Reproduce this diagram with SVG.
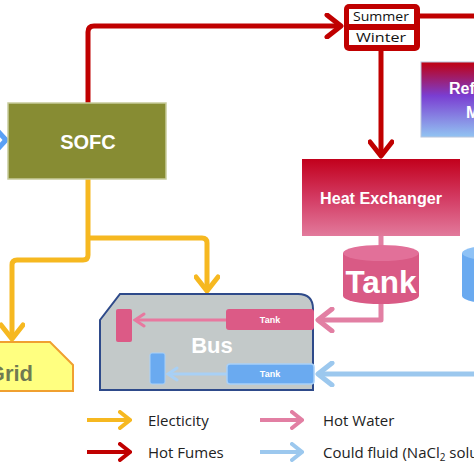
<svg xmlns="http://www.w3.org/2000/svg" width="474" height="474" viewBox="0 0 474 474">
<style>
.ln{fill:none;stroke-width:5;stroke-linejoin:round}
.th{fill:none;stroke-width:3}
.lg{fill:none;stroke-width:4}
.lbl{font-family:"Liberation Sans",Arial,sans-serif;font-weight:bold;fill:#fff;text-anchor:middle}
.leg{font-family:"Open Sans","Liberation Sans",sans-serif;font-size:15px;fill:#222}
.sw{font-family:"Open Sans","Liberation Sans",sans-serif;font-size:13px;fill:#111;text-anchor:middle}
</style>
<defs>
<linearGradient id="gHE" x1="0" y1="0" x2="0" y2="1"><stop offset="0" stop-color="#c2001c"/><stop offset="0.5" stop-color="#d33a62"/><stop offset="1" stop-color="#e27a9c"/></linearGradient>
<linearGradient id="gRF" x1="0" y1="0" x2="0" y2="1"><stop offset="0" stop-color="#c00010"/><stop offset="0.45" stop-color="#7a3ed2"/><stop offset="1" stop-color="#92c4f2"/></linearGradient>
<marker id="mY" markerUnits="userSpaceOnUse" viewBox="0 0 20 26" refX="17" refY="13" markerWidth="20" markerHeight="26" orient="auto"><path d="M3,2 L17,13 L3,24" fill="none" stroke="#f6b820" stroke-width="5" stroke-linecap="round" stroke-linejoin="round"/></marker>
<marker id="mR" markerUnits="userSpaceOnUse" viewBox="0 0 20 26" refX="17" refY="13" markerWidth="20" markerHeight="26" orient="auto"><path d="M3,2 L17,13 L3,24" fill="none" stroke="#c00000" stroke-width="5" stroke-linecap="round" stroke-linejoin="round"/></marker>
<marker id="mP" markerUnits="userSpaceOnUse" viewBox="0 0 20 26" refX="17" refY="13" markerWidth="20" markerHeight="26" orient="auto"><path d="M3,2 L17,13 L3,24" fill="none" stroke="#e27fa3" stroke-width="5" stroke-linecap="round" stroke-linejoin="round"/></marker>
<marker id="mB" markerUnits="userSpaceOnUse" viewBox="0 0 20 26" refX="17" refY="13" markerWidth="20" markerHeight="26" orient="auto"><path d="M3,2 L17,13 L3,24" fill="none" stroke="#9cc8ee" stroke-width="5" stroke-linecap="round" stroke-linejoin="round"/></marker>
<marker id="sP" markerUnits="userSpaceOnUse" viewBox="0 0 14 16" refX="12" refY="8" markerWidth="14" markerHeight="16" orient="auto"><path d="M3,2 L12,8 L3,14" fill="none" stroke="#e8789f" stroke-width="3" stroke-linecap="round"/></marker>
<marker id="sB" markerUnits="userSpaceOnUse" viewBox="0 0 14 16" refX="12" refY="8" markerWidth="14" markerHeight="16" orient="auto"><path d="M3,2 L12,8 L3,14" fill="none" stroke="#a8d0f5" stroke-width="3" stroke-linecap="round"/></marker>
<marker id="lY" markerUnits="userSpaceOnUse" viewBox="0 0 14 20" refX="12" refY="10" markerWidth="14" markerHeight="20" orient="auto"><path d="M2,2 L12,10 L2,18" fill="none" stroke="#f6b820" stroke-width="4" stroke-linecap="round"/></marker>
<marker id="lR" markerUnits="userSpaceOnUse" viewBox="0 0 14 20" refX="12" refY="10" markerWidth="14" markerHeight="20" orient="auto"><path d="M2,2 L12,10 L2,18" fill="none" stroke="#c00000" stroke-width="4" stroke-linecap="round"/></marker>
<marker id="lP" markerUnits="userSpaceOnUse" viewBox="0 0 14 20" refX="12" refY="10" markerWidth="14" markerHeight="20" orient="auto"><path d="M2,2 L12,10 L2,18" fill="none" stroke="#e27fa3" stroke-width="4" stroke-linecap="round"/></marker>
<marker id="lB" markerUnits="userSpaceOnUse" viewBox="0 0 14 20" refX="12" refY="10" markerWidth="14" markerHeight="20" orient="auto"><path d="M2,2 L12,10 L2,18" fill="none" stroke="#9cc8ee" stroke-width="4" stroke-linecap="round"/></marker>
</defs>
<rect width="474" height="474" fill="#fff"/>

<g id="connectors">
<path class="ln" stroke="#c00000" d="M88,103 L88,32 Q88,26 94,26 L341,26" marker-end="url(#mR)"/>
<path class="ln" stroke="#c00000" d="M420,16 L480,16"/>
<path class="ln" stroke="#c00000" d="M381,51 L381,156" marker-end="url(#mR)"/>
<path class="ln" stroke="#e27fa3" d="M381,236 L381,247"/>
<path class="ln" stroke="#e27fa3" d="M381,300 L381,320 L318,320" marker-end="url(#mP)"/>
<path class="ln" stroke="#9cc8ee" d="M480,374 L318,374" marker-end="url(#mB)"/>
<path class="ln" stroke="#f6b820" d="M88,179 L88,255 Q88,260 83,260 L17,260 Q12,260 12,265 L12,339" marker-end="url(#mY)"/>
<path class="ln" stroke="#f6b820" d="M88,238 L202,238 Q207,238 207,243 L207,291" marker-end="url(#mY)"/>
<path class="ln" stroke="#5aa0f5" d="M-6,127 L6,140 L-6,153"/>
</g>

<g id="sofc">
<rect x="8" y="103" width="158" height="76" fill="#878c33" stroke="#c8cc9c" stroke-width="1.5"/>
<text class="lbl" x="88" y="149" font-size="20">SOFC</text>
</g>

<g id="switch">
<rect x="344" y="4" width="76" height="47" rx="5" fill="#c00000"/>
<rect x="349" y="9" width="65" height="15" fill="#fff"/>
<rect x="349" y="30" width="65" height="15" fill="#fff"/>
<text class="sw" x="381" y="21" textLength="56" lengthAdjust="spacingAndGlyphs">Summer</text>
<text class="sw" x="381" y="42" textLength="50" lengthAdjust="spacingAndGlyphs">Winter</text>
</g>

<g id="refrigeration">
<rect x="421" y="62" width="80" height="75" fill="url(#gRF)" stroke="#b8c4dc" stroke-width="1"/>
<text class="lbl" x="449" y="94" font-size="16" style="text-anchor:start">Ref</text>
<text class="lbl" x="466" y="118" font-size="16" style="text-anchor:start">M</text>
</g>

<g id="heat-exchanger">
<rect x="302" y="159" width="158" height="77" fill="url(#gHE)"/>
<text class="lbl" x="381" y="204" font-size="16" textLength="122" lengthAdjust="spacingAndGlyphs">Heat Exchanger</text>
</g>

<g id="tank">
<path d="M343,253 L343,296 A38,8 0 0 0 419,296 L419,253 Z" fill="#d95a85"/>
<ellipse cx="381" cy="253" rx="38" ry="8" fill="#e27099"/>
<text class="lbl" x="381" y="293" font-size="32" textLength="71" lengthAdjust="spacingAndGlyphs">Tank</text>
</g>

<g id="tank-cold">
<path d="M462,253 L462,296 A38,8 0 0 0 538,296 L538,253 Z" fill="#6aaaf0"/>
<ellipse cx="500" cy="253" rx="38" ry="8" fill="#8ec2f6"/>
</g>

<g id="bus">
<path d="M120,294 L298,294 Q313,294 313,309 L313,390 L100,390 L100,320 Z" fill="#c3c9c9" stroke="#2e4a8a" stroke-width="2"/>
<text class="lbl" x="212" y="353" font-size="22">Bus</text>
<rect x="226" y="309" width="88" height="21" rx="3" fill="#dc5a86"/>
<text class="lbl" x="270" y="323" font-size="9">Tank</text>
<rect x="116" y="309" width="16" height="33" rx="2" fill="#dc5a86"/>
<path class="th" stroke="#e8789f" d="M226,320 L135,320" marker-end="url(#sP)"/>
<rect x="227" y="364" width="87" height="20" rx="3" fill="#6aaaf0" stroke="#a8d0f8" stroke-width="1.5"/>
<text class="lbl" x="270" y="377" font-size="9">Tank</text>
<rect x="150" y="353" width="15" height="31" rx="2" fill="#6aaaf0" stroke="#a8d0f8" stroke-width="1"/>
<path class="th" stroke="#a8d0f5" d="M227,374 L168,374" marker-end="url(#sB)"/>
</g>

<g id="grid">
<path d="M-5,342 L50,342 L73,365 L73,391 L-5,391 Z" fill="#ffff80" stroke="#f0a030" stroke-width="2"/>
<text x="33" y="381" font-family="Liberation Sans,Arial,sans-serif" font-weight="bold" font-size="22" fill="#6f7a52" text-anchor="end">Grid</text>
</g>

<g id="legend">
<path class="lg" stroke="#f6b820" d="M87,420 L130,420" marker-end="url(#lY)"/>
<text class="leg" x="148" y="426">Electicity</text>
<path class="lg" stroke="#c00000" d="M87,452 L130,452" marker-end="url(#lR)"/>
<text class="leg" x="148" y="458">Hot Fumes</text>
<path class="lg" stroke="#e27fa3" d="M260,420 L302,420" marker-end="url(#lP)"/>
<text class="leg" x="323" y="426">Hot Water</text>
<path class="lg" stroke="#9cc8ee" d="M260,452 L302,452" marker-end="url(#lB)"/>
<text class="leg" x="323" y="458">Could fluid (NaCl<tspan font-size="10" dy="3">2</tspan><tspan dy="-3"> solu</tspan></text>
</g>
</svg>
